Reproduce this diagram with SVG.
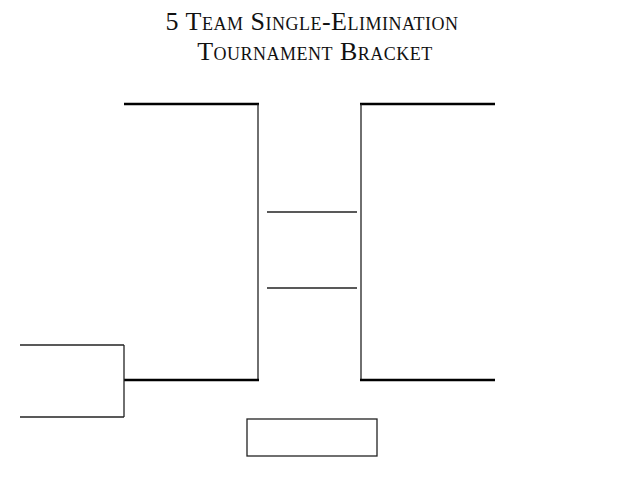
<svg xmlns="http://www.w3.org/2000/svg" width="624" height="482" viewBox="0 0 624 482">
<style>
.t{font-family:"Liberation Serif",serif;font-size:26px;font-variant:small-caps;fill:#111;text-anchor:middle;letter-spacing:0.5px}
.thick{stroke:#000;stroke-width:2.5;fill:none}
.thin{stroke:#222;stroke-width:1.3;fill:none}
</style>
<rect width="624" height="482" fill="#fff"/>
<g id="title">
<text class="t" x="312" y="30">5 Team Single-Elimination</text>
<text class="t" x="315" y="60">Tournament Bracket</text>
</g>
<g id="connectors">
<line class="thick" x1="124" y1="104" x2="259" y2="104"/>
<line class="thin" x1="258" y1="104" x2="258" y2="380"/>
<line class="thick" x1="124" y1="380" x2="259" y2="380"/>
<line class="thin" x1="20" y1="345" x2="124" y2="345"/>
<line class="thin" x1="20" y1="417" x2="124" y2="417"/>
<line class="thin" x1="124" y1="345" x2="124" y2="417"/>
<line class="thin" x1="267" y1="212" x2="357" y2="212"/>
<line class="thin" x1="267" y1="288" x2="357" y2="288"/>
<line class="thick" x1="360" y1="104" x2="495" y2="104"/>
<line class="thin" x1="361" y1="104" x2="361" y2="380"/>
<line class="thick" x1="360" y1="380" x2="495" y2="380"/>
</g>
<g id="champion">
<rect class="thin" x="247" y="419" width="130" height="37"/>
</g>
</svg>
